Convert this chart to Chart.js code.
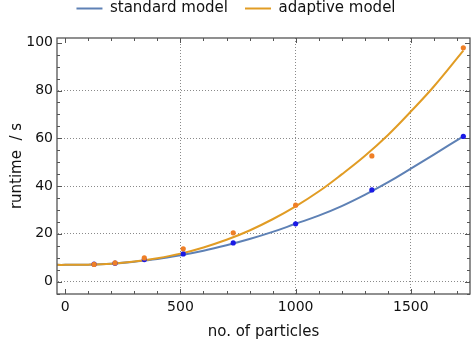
<!DOCTYPE html>
<html>
<head>
<meta charset="utf-8">
<script src="https://cdn.jsdelivr.net/npm/chart.js@4/dist/chart.umd.min.js"></script>
<style>
  body { margin: 0; background: #fff; }
  #wrap { width: 474px; height: 345px; }
</style>
</head>
<body>
<div id="wrap"><canvas id="runtimeChart"></canvas></div>
<script>
// Datos
const seriesNames = ['standard model', 'adaptive model'];

// puntos medidos
const particles = [125, 216, 343, 512, 729, 1000, 1331, 1728];
const standardPoints = [7.3, 7.7, 9.2, 11.6, 16.2, 24.2, 38.4, 60.8];
const adaptivePoints = [7.2, 7.8, 9.9, 13.7, 20.4, 32.0, 52.6, 97.9];

// curvas ajustadas
const curveX = [-36, 0, 100, 200, 300, 400, 500, 600, 700, 800, 900, 1000, 1100, 1200, 1300, 1400, 1500, 1600, 1728];
const standardCurve = [7.0, 7.0, 7.1, 7.5, 8.3, 9.4, 11.0, 12.9, 15.2, 17.8, 20.8, 24.2, 27.6, 31.6, 36.3, 41.5, 47.3, 53.2, 60.8];
const adaptiveCurve = [7.0, 7.0, 7.1, 7.5, 8.4, 9.8, 11.7, 14.3, 17.5, 21.4, 26.1, 31.5, 37.7, 44.9, 52.6, 61.3, 71.2, 81.7, 96.7];

// ejes
const xTicks = [0, 500, 1000, 1500];
const xMinorTicks = [0, 100, 200, 300, 400, 500, 600, 700, 800, 900, 1000, 1100, 1200, 1300, 1400, 1500, 1600, 1700];
const xGridAt = [500, 1000, 1500];
const yTicks = [0, 20, 40, 60, 80, 100];
const yMinorTicks = [-5, 0, 5, 10, 15, 20, 25, 30, 35, 40, 45, 50, 55, 60, 65, 70, 75, 80, 85, 90, 95, 100];
const yGridAt = [0, 20, 40, 60, 80];

const FONT = 'DejaVu Sans';
const toXY = (xs, ys) => xs.map((x, i) => ({ x: x, y: ys[i] }));

// Marco con marcas hacia dentro (estilo Mathematica)
const framePlugin = {
  id: 'frame',
  beforeInit(chart) {
    const legend = chart.legend;
    const origFit = legend.fit;
    legend.fit = function () {
      origFit.call(this);
      this.height = 38;
    };
  },
  afterLayout(chart) {
    chart.legend.top = -16;
  },
  afterDraw(chart) {
    const { ctx, chartArea: a, scales: { x, y } } = chart;
    ctx.save();
    ctx.strokeStyle = '#555';
    ctx.lineWidth = 1;
    ctx.beginPath();
    xMinorTicks.forEach(v => {
      const px = Math.round(x.getPixelForValue(v)) + 0.5;
      const len = xTicks.includes(v) ? 5 : 3;
      ctx.moveTo(px, a.bottom); ctx.lineTo(px, a.bottom - len);
      ctx.moveTo(px, a.top); ctx.lineTo(px, a.top + len);
    });
    yMinorTicks.forEach(v => {
      const py = Math.round(y.getPixelForValue(v)) + 0.5;
      const len = yTicks.includes(v) ? 5 : 3;
      ctx.moveTo(a.left, py); ctx.lineTo(a.left + len, py);
      ctx.moveTo(a.right, py); ctx.lineTo(a.right - len, py);
    });
    ctx.stroke();
    ctx.lineWidth = 1.3;
    ctx.strokeRect(a.left, a.top, a.right - a.left, a.bottom - a.top);
    ctx.restore();
  }
};

const ctx = document.getElementById('runtimeChart').getContext('2d');
new Chart(ctx, {
  type: 'scatter',
  data: {
    datasets: [
      {
        label: seriesNames[0],
        data: toXY(curveX, standardCurve),
        showLine: true,
        borderColor: '#5e81b5',
        backgroundColor: '#5e81b5',
        borderWidth: 2,
        pointRadius: 0,
        pointStyle: 'line',
        tension: 0.4,
        order: 3
      },
      {
        label: seriesNames[1],
        data: toXY(curveX, adaptiveCurve),
        showLine: true,
        borderColor: '#e19c24',
        backgroundColor: '#e19c24',
        borderWidth: 2,
        pointRadius: 0,
        pointStyle: 'line',
        tension: 0.4,
        order: 2
      },
      {
        label: 'standard data',
        data: toXY(particles, standardPoints),
        backgroundColor: '#1a1ae6',
        borderWidth: 0,
        pointRadius: 2.6,
        order: 1
      },
      {
        label: 'adaptive data',
        data: toXY(particles, adaptivePoints),
        backgroundColor: '#ef7f26',
        borderWidth: 0,
        pointRadius: 2.6,
        order: 0
      }
    ]
  },
  options: {
    responsive: true,
    maintainAspectRatio: false,
    animation: false,
    layout: { padding: { right: 2 } },
    plugins: {
      legend: {
        display: true,
        position: 'top',
        labels: {
          usePointStyle: true,
          pointStyleWidth: 26,
          padding: 17,
          color: '#111',
          font: { family: FONT, size: 15 },
          filter: item => item.datasetIndex < 2,
          sort: (a, b) => a.datasetIndex - b.datasetIndex
        }
      },
      tooltip: { enabled: false }
    },
    scales: {
      x: {
        type: 'linear',
        min: -36,
        max: 1757,
        afterBuildTicks: s => { s.ticks = xTicks.map(v => ({ value: v })); },
        afterFit: s => { s.height = 51; },
        ticks: {
          color: '#111',
          padding: 5,
          font: { family: FONT, size: 14 },
          callback: v => String(v)
        },
        grid: {
          drawTicks: false,
          lineWidth: 1,
          color: c => xGridAt.includes(c.tick.value) ? '#8a8a8a' : 'rgba(0,0,0,0)'
        },
        border: { display: true, color: 'rgba(0,0,0,0)', dash: [1, 2] },
        title: {
          display: true,
          text: 'no. of particles',
          color: '#111',
          font: { family: FONT, size: 15 },
          padding: { top: 4, bottom: 4 }
        }
      },
      y: {
        type: 'linear',
        min: -5.2,
        max: 102,
        afterBuildTicks: s => { s.ticks = yTicks.map(v => ({ value: v })); },
        afterFit: s => { s.width = 57; },
        ticks: {
          color: '#111',
          padding: 4,
          font: { family: FONT, size: 14 },
          callback: v => String(v)
        },
        grid: {
          drawTicks: false,
          lineWidth: 1,
          color: c => yGridAt.includes(c.tick.value) ? '#8a8a8a' : 'rgba(0,0,0,0)'
        },
        border: { display: true, color: 'rgba(0,0,0,0)', dash: [1, 2] },
        title: {
          display: true,
          text: 'runtime  / s',
          color: '#111',
          font: { family: FONT, size: 15 },
          padding: { top: 8, bottom: 4 }
        }
      }
    }
  },
  plugins: [framePlugin]
});
</script>
</body>
</html>
